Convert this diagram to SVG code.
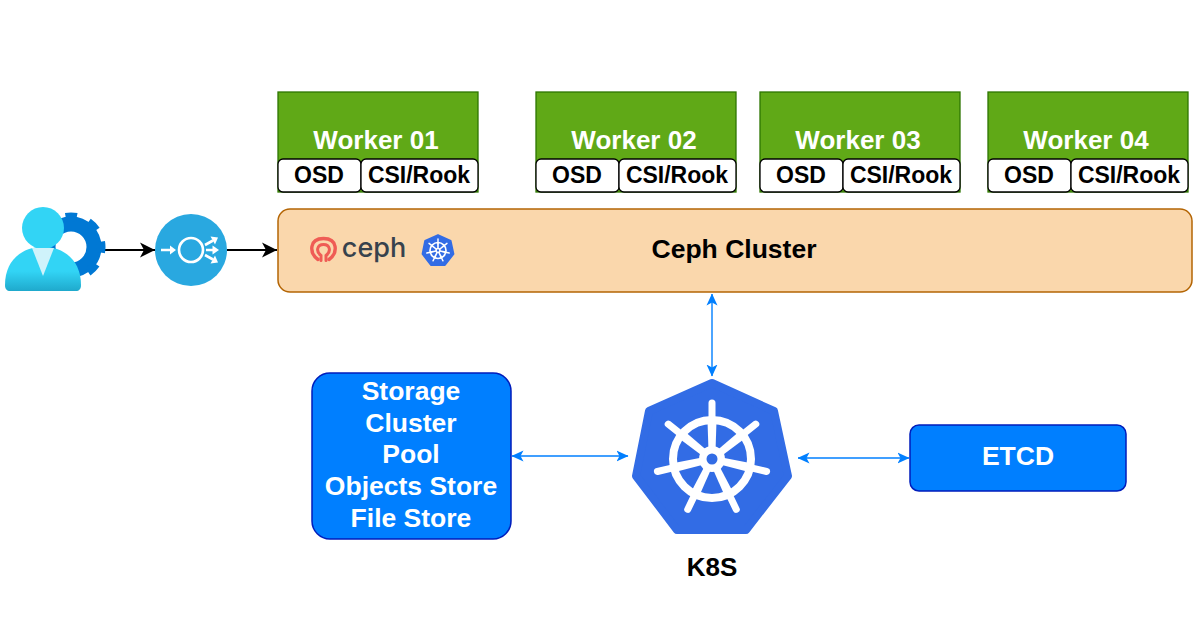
<svg xmlns="http://www.w3.org/2000/svg" xmlns:xlink="http://www.w3.org/1999/xlink" width="1200" height="630" viewBox="0 0 1200 630">
<style>
text{font-family:"Liberation Sans",Arial,sans-serif;font-weight:700;text-anchor:middle}
.worker{fill:#60a917;stroke:#2d7600;stroke-width:1.3}
.sub{fill:#fff;stroke:#000;stroke-width:1.3}
.wt{font-size:26px;fill:#fff}
.st{font-size:23px;fill:#000}
.blue{fill:#007fff;stroke:#001dbc;stroke-width:1.5}
.bt{font-size:26.5px;fill:#fff}
.black{stroke:#000;stroke-width:2;fill:none}
.bl{stroke:#007fff;stroke-width:1.4;fill:none}
</style>
<defs>
<marker id="ab" viewBox="0 0 16 16" refX="15" refY="8" markerWidth="16" markerHeight="16" markerUnits="userSpaceOnUse" orient="auto"><path d="M0 0.500L15 8L0 15.500L4 8Z" fill="#000"/></marker>
<marker id="ae" viewBox="0 0 12 12" refX="11.500" refY="6" markerWidth="12" markerHeight="12" markerUnits="userSpaceOnUse" orient="auto-start-reverse"><path d="M0 0.500L12 6L0 11.500L3 6Z" fill="#007fff"/></marker>
<linearGradient id="pg" x1="0" y1="0" x2="0" y2="1"><stop offset="0.55" stop-color="#32d4f5"/><stop offset="1" stop-color="#1fa9cc"/></linearGradient>
<g id="spoke"><path d="M0 -56V-38" stroke="#fff" stroke-width="7" stroke-linecap="round" fill="none"/><path d="M-4.500 -38L4.500 -38L3.500 -8L-3.500 -8Z" fill="#fff"/></g>
<g id="k8s">
<path d="M0 -76L62 -48L76 17L34 71L-35 71L-76 17L-63 -48Z" fill="#326ce5" stroke="#326ce5" stroke-width="8" stroke-linejoin="round"/>
<circle r="39" fill="none" stroke="#fff" stroke-width="8"/>
<use xlink:href="#spoke"/><use xlink:href="#spoke" transform="rotate(51.430)"/><use xlink:href="#spoke" transform="rotate(102.860)"/><use xlink:href="#spoke" transform="rotate(154.290)"/><use xlink:href="#spoke" transform="rotate(205.710)"/><use xlink:href="#spoke" transform="rotate(257.140)"/><use xlink:href="#spoke" transform="rotate(308.570)"/>
<circle r="13" fill="#fff"/><circle r="5.500" fill="#326ce5"/>
</g>
</defs>
<rect width="1200" height="630" fill="#fff"/>
<g id="connectors">
<path class="black" d="M105 250H155" marker-end="url(#ab)"/>
<path class="black" d="M227 250H277" marker-end="url(#ab)"/>
<path class="bl" d="M712 294V376" marker-start="url(#ae)" marker-end="url(#ae)"/>
<path class="bl" d="M512 456H628" marker-start="url(#ae)" marker-end="url(#ae)"/>
<path class="bl" d="M798 458H909" marker-start="url(#ae)" marker-end="url(#ae)"/>
</g>
<g id="worker1"><rect class="worker" x="278" y="92" width="200" height="100"/><text class="wt" x="376" y="149">Worker 01</text><rect class="sub" x="278" y="159" width="83" height="33" rx="5"/><text class="st" x="319" y="183">OSD</text><rect class="sub" x="361" y="159" width="117" height="33" rx="5"/><text class="st" x="419" y="183">CSI/Rook</text></g>
<g id="worker2"><rect class="worker" x="536" y="92" width="200" height="100"/><text class="wt" x="634" y="149">Worker 02</text><rect class="sub" x="536" y="159" width="83" height="33" rx="5"/><text class="st" x="577" y="183">OSD</text><rect class="sub" x="619" y="159" width="117" height="33" rx="5"/><text class="st" x="677" y="183">CSI/Rook</text></g>
<g id="worker3"><rect class="worker" x="760" y="92" width="200" height="100"/><text class="wt" x="858" y="149">Worker 03</text><rect class="sub" x="760" y="159" width="83" height="33" rx="5"/><text class="st" x="801" y="183">OSD</text><rect class="sub" x="843" y="159" width="117" height="33" rx="5"/><text class="st" x="901" y="183">CSI/Rook</text></g>
<g id="worker4"><rect class="worker" x="988" y="92" width="200" height="100"/><text class="wt" x="1086" y="149">Worker 04</text><rect class="sub" x="988" y="159" width="83" height="33" rx="5"/><text class="st" x="1029" y="183">OSD</text><rect class="sub" x="1071" y="159" width="117" height="33" rx="5"/><text class="st" x="1129" y="183">CSI/Rook</text></g>
<g id="ceph-cluster">
<rect x="278" y="209" width="914" height="83" rx="12" fill="#fad7ac" stroke="#b46504" stroke-width="1.5"/>
<text x="734" y="258" font-size="26.500">Ceph Cluster</text>
<g fill="none" stroke="#ef5c55" stroke-linecap="round">
<path d="M318 259.500C309 253 309 238.500 323.500 238.500C338 238.500 338 253 329 259.500" stroke-width="3.400"/>
<path d="M321 260.500V255.500C315.500 251.500 317 244.500 323.500 244.500C330 244.500 331.500 251.500 326 255.500V260.500" stroke-width="3"/>
</g>
<text x="374" y="257" font-size="27" style="font-family:Inter,sans-serif;font-weight:500;fill:#37424d">ceph</text>
<use xlink:href="#k8s" transform="translate(438 250.500) scale(0.205)"/>
</g>
<g id="user">
<circle cx="71" cy="247" r="23" fill="none" stroke="#0078d4" stroke-width="15"/>
<circle cx="71" cy="247" r="30" fill="none" stroke="#0078d4" stroke-width="9" stroke-dasharray="11 12.560" stroke-dashoffset="5.500"/>
<path d="M5 285C5 262 20 247 43 247C66 247 81 262 81 285C81 289 79 291 76 291H10C7 291 5 289 5 285Z" fill="url(#pg)"/>
<circle cx="43" cy="228" r="21" fill="#32d4f5"/>
<path d="M32 248L54 248L43 276Z" fill="#cff3fb"/>
</g>
<g id="load-balancer">
<circle cx="191" cy="250" r="36" fill="#29a8e0"/>
<g fill="none" stroke="#fff" stroke-width="2.600">
<circle cx="191" cy="250" r="12"/>
<path d="M161 250H171M205 245L213 240.500M206 250H214M205 255L213 259.500"/>
</g>
<g fill="#fff">
<path d="M170 245.500L176 250L170 254.500Z"/>
<path d="M210.500 236.500L218 237.500L215 244.500Z"/>
<path d="M212.500 245.500L219 250L212.500 254.500Z"/>
<path d="M215 255.500L218 262.500L210.500 263.500Z"/>
</g>
</g>
<g id="storage"><rect class="blue" x="312" y="373" width="199" height="166" rx="18"/>
<text class="bt" x="411" y="400">Storage</text><text class="bt" x="411" y="432">Cluster</text><text class="bt" x="411" y="463">Pool</text><text class="bt" x="411" y="495">Objects Store</text><text class="bt" x="411" y="527">File Store</text></g>
<g id="k8s-node"><use xlink:href="#k8s" transform="translate(712 459)"/><text x="712" y="576" font-size="26">K8S</text></g>
<g id="etcd"><rect class="blue" x="910" y="425" width="216" height="66" rx="9"/><text class="bt" x="1018" y="465">ETCD</text></g>
</svg>
